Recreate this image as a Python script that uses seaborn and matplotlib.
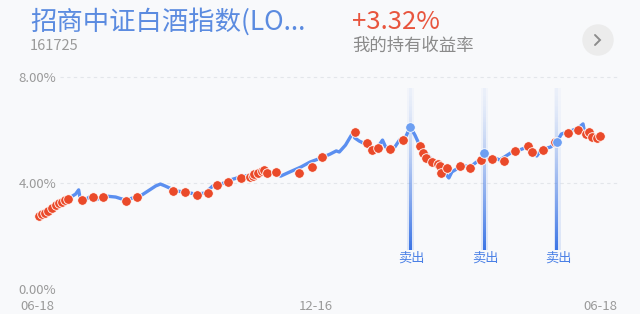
import numpy as np
import pandas as pd
import matplotlib
matplotlib.use("Agg")
import matplotlib.pyplot as plt
from matplotlib.patches import Circle
import seaborn as sns

# ---------------- data ----------------
title = "招商中证白酒指数(LO..."
code = "161725"
ret_text = "+3.32%"
ret_label = "我的持有收益率"
sell_label = "卖出"

line_days = [0, 5, 8, 12, 16, 20, 25, 27, 28, 31, 34, 38, 44, 51, 57, 60, 67, 72, 77, 80,
             83, 90, 96, 103, 109, 114, 117, 125, 132, 138, 143, 146, 151, 158, 164, 171, 177, 184, 190, 194,
             196, 200, 205, 206, 209, 213, 217, 221, 224, 226, 229, 232, 235, 239, 242, 245, 248, 252, 255, 258,
             261, 265, 267, 269, 271, 274, 278, 281, 284, 287, 290, 294, 297, 300, 303, 307, 313, 318, 321, 324,
             327, 333, 337, 340, 346, 351, 354, 355, 359, 362, 364]
line_pct = [2.79, 2.87, 3.02, 3.17, 3.28, 3.40, 3.58, 3.74, 3.40, 3.36, 3.47, 3.36, 3.51, 3.47, 3.36, 3.40, 3.51, 3.70, 3.89, 3.96,
            3.89, 3.70, 3.66, 3.58, 3.62, 3.89, 3.89, 4.11, 4.23, 4.30, 4.42, 4.34, 4.42, 4.26, 4.42, 4.60, 4.79, 4.94, 5.09, 5.21,
            5.17, 5.43, 5.92, 5.70, 5.58, 5.47, 5.28, 5.36, 5.62, 5.36, 5.25, 5.36, 5.62, 5.74, 6.11, 5.81, 5.43, 5.17, 4.94, 4.72,
            4.49, 4.34, 4.19, 4.42, 4.49, 4.60, 4.64, 4.60, 4.75, 4.87, 5.13, 4.87, 4.94, 4.87, 4.98, 5.13, 5.25, 5.36, 5.17, 5.02,
            5.25, 5.36, 5.55, 5.85, 5.96, 6.08, 6.23, 5.92, 5.81, 5.74, 5.77]

buy_days = [1, 3, 5, 7, 10, 12, 14, 16, 18, 20, 29, 36, 43, 58, 65, 88, 96, 104, 111, 117,
            124, 132, 138, 140, 141, 143, 146, 147, 149, 155, 170, 178, 185, 206, 214, 217, 221, 229, 237, 248,
            250, 252, 256, 260, 261, 262, 266, 274, 281, 288, 295, 303, 310, 318, 321, 328, 336, 344, 351, 356,
            358, 360, 363, 365]
buy_pct = [2.75, 2.83, 2.87, 2.94, 3.06, 3.17, 3.25, 3.28, 3.36, 3.40, 3.36, 3.47, 3.47, 3.32, 3.47, 3.70, 3.66, 3.55, 3.62, 3.92,
           4.04, 4.19, 4.23, 4.26, 4.34, 4.38, 4.45, 4.49, 4.38, 4.42, 4.38, 4.60, 4.98, 5.92, 5.51, 5.25, 5.32, 5.28, 5.62, 5.40,
           5.13, 4.94, 4.79, 4.72, 4.64, 4.38, 4.57, 4.64, 4.57, 4.87, 4.91, 4.83, 5.21, 5.40, 5.17, 5.25, 5.55, 5.89, 6.00, 5.85,
           5.92, 5.74, 5.70, 5.77]

sell_days = [242, 290, 337]
sell_pct = [6.11, 5.13, 5.55]

x_tick_days = [0, 181, 365]
x_tick_labels = ["06-18", "12-16", "06-18"]
y_ticks = [0, 4, 8]
y_tick_labels = ["0.00%", "4.00%", "8.00%"]

# ---------------- style ----------------
BG = "#f8f9fb"
BLUE = "#5b8ff0"
RED = "#ea4a2a"
SELL_BLUE = "#3a74e6"
GRAY = "#9a9a9a"

sns.set_theme(style="white")
plt.rcParams["font.family"] = ["Noto Sans CJK SC", "DejaVu Sans"]

fig = plt.figure(figsize=(6.4, 3.14), dpi=100, facecolor=BG)
W, H = 640, 314
ax = fig.add_axes([37 / W, (H - 289) / H, (600 - 37) / W, (289 - 77) / H])
ax.set_facecolor(BG)
ax.set_xlim(0, 365)
ax.set_ylim(0, 8)
for s in ax.spines.values():
    s.set_visible(False)

# gridlines at 4% and 8%
for yv in y_ticks[1:]:
    ax.plot([0.041, 1.03], [yv, yv], transform=ax.get_yaxis_transform(),
            color="#e3e6ea", lw=0.8, ls=(0, (3, 3)), clip_on=False, zorder=0)

# sell gradient bars
y_top, y_bot = 7.58, 1.47
grad = np.linspace(0, 1, 200)[:, None]
for d in sell_days:
    rgba = np.zeros((200, 1, 4))
    rgba[..., :3] = matplotlib.colors.to_rgb(SELL_BLUE)
    rgba[..., 3] = grad ** 1.6 * 0.95 + 0.04
    ax.imshow(rgba, extent=[d - 0.9, d + 0.9, y_top, y_bot], aspect="auto",
              origin="lower", zorder=1, interpolation="bilinear")
    rgba2 = rgba.copy()
    rgba2[..., 3] = grad * 0.12 + 0.03
    ax.imshow(rgba2, extent=[d - 2.0, d + 2.0, y_top, y_bot], aspect="auto",
              origin="lower", zorder=1, interpolation="bilinear")
    ax.text(d + 1, y_bot - 0.3, sell_label, ha="center", va="center",
            color="#4a80e6", fontsize=9.5)

df_line = pd.DataFrame({"day": line_days, "pct": line_pct})
sns.lineplot(data=df_line, x="day", y="pct", ax=ax, color=BLUE, lw=2.4, zorder=3)

df_buy = pd.DataFrame({"day": buy_days, "pct": buy_pct})
sns.scatterplot(data=df_buy, x="day", y="pct", ax=ax, color=RED, s=48,
                edgecolor="white", linewidth=0.6, zorder=4, clip_on=False)

df_sell = pd.DataFrame({"day": sell_days, "pct": sell_pct})
sns.scatterplot(data=df_sell, x="day", y="pct", ax=ax, color="#6d9ff2", s=48,
                edgecolor="white", linewidth=0.6, zorder=5)

ax.set_xlabel("")
ax.set_ylabel("")
ax.set_xticks(x_tick_days)
ax.set_xticklabels(x_tick_labels)
ax.set_yticks(y_ticks)
ax.set_yticklabels(y_tick_labels)
ax.tick_params(axis="both", length=0, colors=GRAY, labelsize=9.5)
ax.tick_params(axis="y", pad=-13.7)
ax.tick_params(axis="x", pad=8)
for lab in ax.get_yticklabels():
    lab.set_ha("right")

# header
fig.text(30 / W, 1 - 22 / H, title, color="#5b8be0", fontsize=19, va="center", ha="left")
fig.text(30 / W, 1 - 46 / H, code, color=GRAY, fontsize=10.5, va="center", ha="left")
fig.text(352 / W, 1 - 22 / H, ret_text, color="#e8553e", fontsize=18.5, va="center", ha="left")
fig.text(352 / W, 1 - 46 / H, ret_label, color="#8a8a8a", fontsize=12.5, va="center", ha="left")

# chevron button
btn_ax = fig.add_axes([0, 0, 1, 1], facecolor="none")
btn_ax.set_xlim(0, W)
btn_ax.set_ylim(H, 0)
btn_ax.axis("off")
btn_ax.add_patch(Circle((598, 40), 15, color="#ececec", zorder=1))
btn_ax.plot([595, 600, 595], [35, 40, 45], color="#8c8c8c", lw=1.4, zorder=2,
            solid_capstyle="round", solid_joinstyle="miter")

fig.savefig("out.png", dpi=100, facecolor=BG)
